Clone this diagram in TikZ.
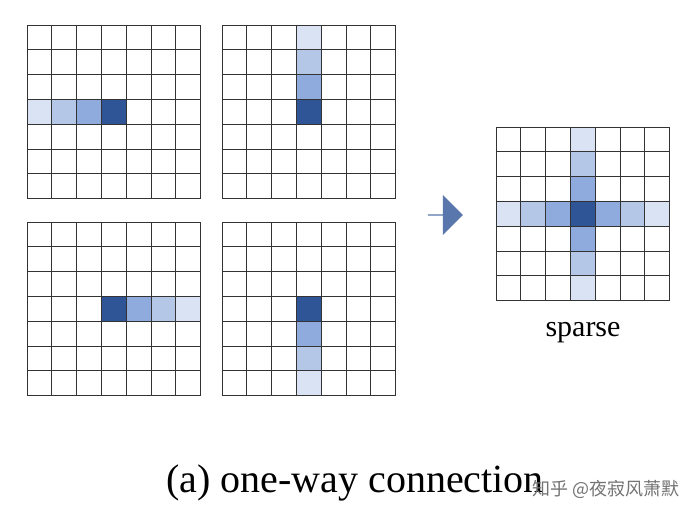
\documentclass[tikz,border=0pt]{standalone}
\usepackage{fontspec}
\setmainfont{Liberation Serif}
\newfontfamily\cjk{Noto Sans CJK SC}
\usetikzlibrary{shapes.arrows}
\definecolor{cA}{HTML}{2F5597}
\definecolor{cB}{HTML}{8FAADC}
\definecolor{cC}{HTML}{B4C7E7}
\definecolor{cD}{HTML}{DAE3F3}
\begin{document}
\begin{tikzpicture}[x=1pt,y=-1pt,
  gridline/.style={draw=black!80,line width=0.8pt}]
\useasboundingbox (0,0) rectangle (697,520);
\fill[white] (0,0) rectangle (697,520);
\def\cs{24.8}
\newcommand\mycell[5]{\fill[#5] ({#1+#3*\cs},{#2+#4*\cs}) rectangle ++(\cs,\cs);}
\newcommand\mygrid[2]{\foreach \i in {0,...,7}{
  \draw[gridline] ({#1+\i*\cs},#2) -- ++(0,{7*\cs});
  \draw[gridline] (#1,{#2+\i*\cs}) -- ++({7*\cs},0);}}
% top-left
\mycell{27}{25}{0}{3}{cD}\mycell{27}{25}{1}{3}{cC}\mycell{27}{25}{2}{3}{cB}\mycell{27}{25}{3}{3}{cA}
\mygrid{27}{25}
% top-right
\mycell{222}{25}{3}{0}{cD}\mycell{222}{25}{3}{1}{cC}\mycell{222}{25}{3}{2}{cB}\mycell{222}{25}{3}{3}{cA}
\mygrid{222}{25}
% bottom-left
\mycell{27}{222}{3}{3}{cA}\mycell{27}{222}{4}{3}{cB}\mycell{27}{222}{5}{3}{cC}\mycell{27}{222}{6}{3}{cD}
\mygrid{27}{222}
% bottom-right
\mycell{222}{222}{3}{3}{cA}\mycell{222}{222}{3}{4}{cB}\mycell{222}{222}{3}{5}{cC}\mycell{222}{222}{3}{6}{cD}
\mygrid{222}{222}
% sparse
\mycell{496}{127}{3}{3}{cA}
\mycell{496}{127}{2}{3}{cB}\mycell{496}{127}{1}{3}{cC}\mycell{496}{127}{0}{3}{cD}
\mycell{496}{127}{4}{3}{cB}\mycell{496}{127}{5}{3}{cC}\mycell{496}{127}{6}{3}{cD}
\mycell{496}{127}{3}{2}{cB}\mycell{496}{127}{3}{1}{cC}\mycell{496}{127}{3}{0}{cD}
\mycell{496}{127}{3}{4}{cB}\mycell{496}{127}{3}{5}{cC}\mycell{496}{127}{3}{6}{cD}
\mygrid{496}{127}
% arrow
\node[single arrow,fill=cA!80!white,draw=none,minimum width=40pt,minimum height=35pt,
  single arrow head extend=6pt,single arrow tip angle=90,inner sep=0pt] (arr) at (445,215) {};
\node[font=\fontsize{30}{34}\selectfont] (sp) at (583,333) {sparse};
\node[font=\fontsize{40}{44}\selectfont] (cap) at (355,483) {(a) one-way connection};
\node[font=\cjk\fontsize{18}{22}\selectfont,text=black!55] (wm) at (606,489) {知乎 @夜寂风萧默};
\end{tikzpicture}
\end{document}
